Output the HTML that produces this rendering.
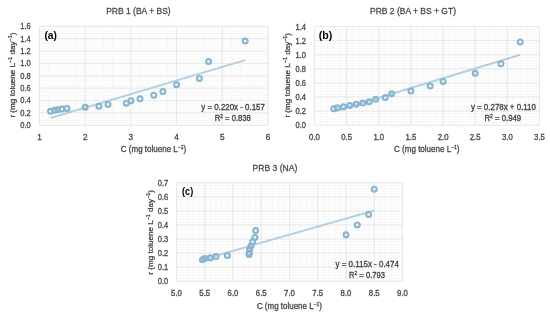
<!DOCTYPE html>
<html><head><meta charset="utf-8"><style>
html,body{margin:0;padding:0;background:#fff;}
svg{display:block;will-change:transform;filter:blur(0.3px);}
text{font-family:"Liberation Sans", sans-serif;}
</style></head><body>
<svg width="550" height="316" viewBox="0 0 550 316">
<rect width="550" height="316" fill="#fff"/>
<line x1="39.5" y1="26.3" x2="39.5" y2="125.2" stroke="#f7f7f7" stroke-width="1"/>
<line x1="48.64" y1="26.3" x2="48.64" y2="125.2" stroke="#f7f7f7" stroke-width="1"/>
<line x1="57.78" y1="26.3" x2="57.78" y2="125.2" stroke="#f7f7f7" stroke-width="1"/>
<line x1="66.92" y1="26.3" x2="66.92" y2="125.2" stroke="#f7f7f7" stroke-width="1"/>
<line x1="76.06" y1="26.3" x2="76.06" y2="125.2" stroke="#f7f7f7" stroke-width="1"/>
<line x1="85.2" y1="26.3" x2="85.2" y2="125.2" stroke="#f7f7f7" stroke-width="1"/>
<line x1="94.34" y1="26.3" x2="94.34" y2="125.2" stroke="#f7f7f7" stroke-width="1"/>
<line x1="103.48" y1="26.3" x2="103.48" y2="125.2" stroke="#f7f7f7" stroke-width="1"/>
<line x1="112.62" y1="26.3" x2="112.62" y2="125.2" stroke="#f7f7f7" stroke-width="1"/>
<line x1="121.76" y1="26.3" x2="121.76" y2="125.2" stroke="#f7f7f7" stroke-width="1"/>
<line x1="130.9" y1="26.3" x2="130.9" y2="125.2" stroke="#f7f7f7" stroke-width="1"/>
<line x1="140.04" y1="26.3" x2="140.04" y2="125.2" stroke="#f7f7f7" stroke-width="1"/>
<line x1="149.18" y1="26.3" x2="149.18" y2="125.2" stroke="#f7f7f7" stroke-width="1"/>
<line x1="158.32" y1="26.3" x2="158.32" y2="125.2" stroke="#f7f7f7" stroke-width="1"/>
<line x1="167.46" y1="26.3" x2="167.46" y2="125.2" stroke="#f7f7f7" stroke-width="1"/>
<line x1="176.6" y1="26.3" x2="176.6" y2="125.2" stroke="#f7f7f7" stroke-width="1"/>
<line x1="185.74" y1="26.3" x2="185.74" y2="125.2" stroke="#f7f7f7" stroke-width="1"/>
<line x1="194.88" y1="26.3" x2="194.88" y2="125.2" stroke="#f7f7f7" stroke-width="1"/>
<line x1="204.02" y1="26.3" x2="204.02" y2="125.2" stroke="#f7f7f7" stroke-width="1"/>
<line x1="213.16" y1="26.3" x2="213.16" y2="125.2" stroke="#f7f7f7" stroke-width="1"/>
<line x1="222.3" y1="26.3" x2="222.3" y2="125.2" stroke="#f7f7f7" stroke-width="1"/>
<line x1="231.44" y1="26.3" x2="231.44" y2="125.2" stroke="#f7f7f7" stroke-width="1"/>
<line x1="240.58" y1="26.3" x2="240.58" y2="125.2" stroke="#f7f7f7" stroke-width="1"/>
<line x1="249.72" y1="26.3" x2="249.72" y2="125.2" stroke="#f7f7f7" stroke-width="1"/>
<line x1="258.86" y1="26.3" x2="258.86" y2="125.2" stroke="#f7f7f7" stroke-width="1"/>
<line x1="268" y1="26.3" x2="268" y2="125.2" stroke="#f7f7f7" stroke-width="1"/>
<line x1="39.5" y1="125.2" x2="268" y2="125.2" stroke="#f7f7f7" stroke-width="1"/>
<line x1="39.5" y1="122.73" x2="268" y2="122.73" stroke="#f7f7f7" stroke-width="1"/>
<line x1="39.5" y1="120.25" x2="268" y2="120.25" stroke="#f7f7f7" stroke-width="1"/>
<line x1="39.5" y1="117.78" x2="268" y2="117.78" stroke="#f7f7f7" stroke-width="1"/>
<line x1="39.5" y1="115.31" x2="268" y2="115.31" stroke="#f7f7f7" stroke-width="1"/>
<line x1="39.5" y1="112.84" x2="268" y2="112.84" stroke="#f7f7f7" stroke-width="1"/>
<line x1="39.5" y1="110.37" x2="268" y2="110.37" stroke="#f7f7f7" stroke-width="1"/>
<line x1="39.5" y1="107.89" x2="268" y2="107.89" stroke="#f7f7f7" stroke-width="1"/>
<line x1="39.5" y1="105.42" x2="268" y2="105.42" stroke="#f7f7f7" stroke-width="1"/>
<line x1="39.5" y1="102.95" x2="268" y2="102.95" stroke="#f7f7f7" stroke-width="1"/>
<line x1="39.5" y1="100.47" x2="268" y2="100.47" stroke="#f7f7f7" stroke-width="1"/>
<line x1="39.5" y1="98" x2="268" y2="98" stroke="#f7f7f7" stroke-width="1"/>
<line x1="39.5" y1="95.53" x2="268" y2="95.53" stroke="#f7f7f7" stroke-width="1"/>
<line x1="39.5" y1="93.06" x2="268" y2="93.06" stroke="#f7f7f7" stroke-width="1"/>
<line x1="39.5" y1="90.59" x2="268" y2="90.59" stroke="#f7f7f7" stroke-width="1"/>
<line x1="39.5" y1="88.11" x2="268" y2="88.11" stroke="#f7f7f7" stroke-width="1"/>
<line x1="39.5" y1="85.64" x2="268" y2="85.64" stroke="#f7f7f7" stroke-width="1"/>
<line x1="39.5" y1="83.17" x2="268" y2="83.17" stroke="#f7f7f7" stroke-width="1"/>
<line x1="39.5" y1="80.7" x2="268" y2="80.7" stroke="#f7f7f7" stroke-width="1"/>
<line x1="39.5" y1="78.22" x2="268" y2="78.22" stroke="#f7f7f7" stroke-width="1"/>
<line x1="39.5" y1="75.75" x2="268" y2="75.75" stroke="#f7f7f7" stroke-width="1"/>
<line x1="39.5" y1="73.28" x2="268" y2="73.28" stroke="#f7f7f7" stroke-width="1"/>
<line x1="39.5" y1="70.81" x2="268" y2="70.81" stroke="#f7f7f7" stroke-width="1"/>
<line x1="39.5" y1="68.33" x2="268" y2="68.33" stroke="#f7f7f7" stroke-width="1"/>
<line x1="39.5" y1="65.86" x2="268" y2="65.86" stroke="#f7f7f7" stroke-width="1"/>
<line x1="39.5" y1="63.39" x2="268" y2="63.39" stroke="#f7f7f7" stroke-width="1"/>
<line x1="39.5" y1="60.91" x2="268" y2="60.91" stroke="#f7f7f7" stroke-width="1"/>
<line x1="39.5" y1="58.44" x2="268" y2="58.44" stroke="#f7f7f7" stroke-width="1"/>
<line x1="39.5" y1="55.97" x2="268" y2="55.97" stroke="#f7f7f7" stroke-width="1"/>
<line x1="39.5" y1="53.5" x2="268" y2="53.5" stroke="#f7f7f7" stroke-width="1"/>
<line x1="39.5" y1="51.03" x2="268" y2="51.03" stroke="#f7f7f7" stroke-width="1"/>
<line x1="39.5" y1="48.55" x2="268" y2="48.55" stroke="#f7f7f7" stroke-width="1"/>
<line x1="39.5" y1="46.08" x2="268" y2="46.08" stroke="#f7f7f7" stroke-width="1"/>
<line x1="39.5" y1="43.61" x2="268" y2="43.61" stroke="#f7f7f7" stroke-width="1"/>
<line x1="39.5" y1="41.14" x2="268" y2="41.14" stroke="#f7f7f7" stroke-width="1"/>
<line x1="39.5" y1="38.66" x2="268" y2="38.66" stroke="#f7f7f7" stroke-width="1"/>
<line x1="39.5" y1="36.19" x2="268" y2="36.19" stroke="#f7f7f7" stroke-width="1"/>
<line x1="39.5" y1="33.72" x2="268" y2="33.72" stroke="#f7f7f7" stroke-width="1"/>
<line x1="39.5" y1="31.25" x2="268" y2="31.25" stroke="#f7f7f7" stroke-width="1"/>
<line x1="39.5" y1="28.77" x2="268" y2="28.77" stroke="#f7f7f7" stroke-width="1"/>
<line x1="39.5" y1="26.3" x2="268" y2="26.3" stroke="#f7f7f7" stroke-width="1"/>
<line x1="39.5" y1="26.3" x2="39.5" y2="125.2" stroke="#e7e7e7" stroke-width="1"/>
<line x1="85.2" y1="26.3" x2="85.2" y2="125.2" stroke="#e7e7e7" stroke-width="1"/>
<line x1="130.9" y1="26.3" x2="130.9" y2="125.2" stroke="#e7e7e7" stroke-width="1"/>
<line x1="176.6" y1="26.3" x2="176.6" y2="125.2" stroke="#e7e7e7" stroke-width="1"/>
<line x1="222.3" y1="26.3" x2="222.3" y2="125.2" stroke="#e7e7e7" stroke-width="1"/>
<line x1="268" y1="26.3" x2="268" y2="125.2" stroke="#e7e7e7" stroke-width="1"/>
<line x1="39.5" y1="125.2" x2="268" y2="125.2" stroke="#e7e7e7" stroke-width="1"/>
<line x1="39.5" y1="112.84" x2="268" y2="112.84" stroke="#e7e7e7" stroke-width="1"/>
<line x1="39.5" y1="100.47" x2="268" y2="100.47" stroke="#e7e7e7" stroke-width="1"/>
<line x1="39.5" y1="88.11" x2="268" y2="88.11" stroke="#e7e7e7" stroke-width="1"/>
<line x1="39.5" y1="75.75" x2="268" y2="75.75" stroke="#e7e7e7" stroke-width="1"/>
<line x1="39.5" y1="63.39" x2="268" y2="63.39" stroke="#e7e7e7" stroke-width="1"/>
<line x1="39.5" y1="51.02" x2="268" y2="51.02" stroke="#e7e7e7" stroke-width="1"/>
<line x1="39.5" y1="38.66" x2="268" y2="38.66" stroke="#e7e7e7" stroke-width="1"/>
<line x1="39.5" y1="26.3" x2="268" y2="26.3" stroke="#e7e7e7" stroke-width="1"/>
<line x1="314.5" y1="26.6" x2="314.5" y2="125.2" stroke="#f7f7f7" stroke-width="1"/>
<line x1="320.93" y1="26.6" x2="320.93" y2="125.2" stroke="#f7f7f7" stroke-width="1"/>
<line x1="327.36" y1="26.6" x2="327.36" y2="125.2" stroke="#f7f7f7" stroke-width="1"/>
<line x1="333.79" y1="26.6" x2="333.79" y2="125.2" stroke="#f7f7f7" stroke-width="1"/>
<line x1="340.21" y1="26.6" x2="340.21" y2="125.2" stroke="#f7f7f7" stroke-width="1"/>
<line x1="346.64" y1="26.6" x2="346.64" y2="125.2" stroke="#f7f7f7" stroke-width="1"/>
<line x1="353.07" y1="26.6" x2="353.07" y2="125.2" stroke="#f7f7f7" stroke-width="1"/>
<line x1="359.5" y1="26.6" x2="359.5" y2="125.2" stroke="#f7f7f7" stroke-width="1"/>
<line x1="365.93" y1="26.6" x2="365.93" y2="125.2" stroke="#f7f7f7" stroke-width="1"/>
<line x1="372.36" y1="26.6" x2="372.36" y2="125.2" stroke="#f7f7f7" stroke-width="1"/>
<line x1="378.79" y1="26.6" x2="378.79" y2="125.2" stroke="#f7f7f7" stroke-width="1"/>
<line x1="385.21" y1="26.6" x2="385.21" y2="125.2" stroke="#f7f7f7" stroke-width="1"/>
<line x1="391.64" y1="26.6" x2="391.64" y2="125.2" stroke="#f7f7f7" stroke-width="1"/>
<line x1="398.07" y1="26.6" x2="398.07" y2="125.2" stroke="#f7f7f7" stroke-width="1"/>
<line x1="404.5" y1="26.6" x2="404.5" y2="125.2" stroke="#f7f7f7" stroke-width="1"/>
<line x1="410.93" y1="26.6" x2="410.93" y2="125.2" stroke="#f7f7f7" stroke-width="1"/>
<line x1="417.36" y1="26.6" x2="417.36" y2="125.2" stroke="#f7f7f7" stroke-width="1"/>
<line x1="423.79" y1="26.6" x2="423.79" y2="125.2" stroke="#f7f7f7" stroke-width="1"/>
<line x1="430.21" y1="26.6" x2="430.21" y2="125.2" stroke="#f7f7f7" stroke-width="1"/>
<line x1="436.64" y1="26.6" x2="436.64" y2="125.2" stroke="#f7f7f7" stroke-width="1"/>
<line x1="443.07" y1="26.6" x2="443.07" y2="125.2" stroke="#f7f7f7" stroke-width="1"/>
<line x1="449.5" y1="26.6" x2="449.5" y2="125.2" stroke="#f7f7f7" stroke-width="1"/>
<line x1="455.93" y1="26.6" x2="455.93" y2="125.2" stroke="#f7f7f7" stroke-width="1"/>
<line x1="462.36" y1="26.6" x2="462.36" y2="125.2" stroke="#f7f7f7" stroke-width="1"/>
<line x1="468.79" y1="26.6" x2="468.79" y2="125.2" stroke="#f7f7f7" stroke-width="1"/>
<line x1="475.21" y1="26.6" x2="475.21" y2="125.2" stroke="#f7f7f7" stroke-width="1"/>
<line x1="481.64" y1="26.6" x2="481.64" y2="125.2" stroke="#f7f7f7" stroke-width="1"/>
<line x1="488.07" y1="26.6" x2="488.07" y2="125.2" stroke="#f7f7f7" stroke-width="1"/>
<line x1="494.5" y1="26.6" x2="494.5" y2="125.2" stroke="#f7f7f7" stroke-width="1"/>
<line x1="500.93" y1="26.6" x2="500.93" y2="125.2" stroke="#f7f7f7" stroke-width="1"/>
<line x1="507.36" y1="26.6" x2="507.36" y2="125.2" stroke="#f7f7f7" stroke-width="1"/>
<line x1="513.79" y1="26.6" x2="513.79" y2="125.2" stroke="#f7f7f7" stroke-width="1"/>
<line x1="520.21" y1="26.6" x2="520.21" y2="125.2" stroke="#f7f7f7" stroke-width="1"/>
<line x1="526.64" y1="26.6" x2="526.64" y2="125.2" stroke="#f7f7f7" stroke-width="1"/>
<line x1="533.07" y1="26.6" x2="533.07" y2="125.2" stroke="#f7f7f7" stroke-width="1"/>
<line x1="539.5" y1="26.6" x2="539.5" y2="125.2" stroke="#f7f7f7" stroke-width="1"/>
<line x1="314.5" y1="125.2" x2="539.5" y2="125.2" stroke="#f7f7f7" stroke-width="1"/>
<line x1="314.5" y1="122.38" x2="539.5" y2="122.38" stroke="#f7f7f7" stroke-width="1"/>
<line x1="314.5" y1="119.57" x2="539.5" y2="119.57" stroke="#f7f7f7" stroke-width="1"/>
<line x1="314.5" y1="116.75" x2="539.5" y2="116.75" stroke="#f7f7f7" stroke-width="1"/>
<line x1="314.5" y1="113.93" x2="539.5" y2="113.93" stroke="#f7f7f7" stroke-width="1"/>
<line x1="314.5" y1="111.11" x2="539.5" y2="111.11" stroke="#f7f7f7" stroke-width="1"/>
<line x1="314.5" y1="108.3" x2="539.5" y2="108.3" stroke="#f7f7f7" stroke-width="1"/>
<line x1="314.5" y1="105.48" x2="539.5" y2="105.48" stroke="#f7f7f7" stroke-width="1"/>
<line x1="314.5" y1="102.66" x2="539.5" y2="102.66" stroke="#f7f7f7" stroke-width="1"/>
<line x1="314.5" y1="99.85" x2="539.5" y2="99.85" stroke="#f7f7f7" stroke-width="1"/>
<line x1="314.5" y1="97.03" x2="539.5" y2="97.03" stroke="#f7f7f7" stroke-width="1"/>
<line x1="314.5" y1="94.21" x2="539.5" y2="94.21" stroke="#f7f7f7" stroke-width="1"/>
<line x1="314.5" y1="91.39" x2="539.5" y2="91.39" stroke="#f7f7f7" stroke-width="1"/>
<line x1="314.5" y1="88.58" x2="539.5" y2="88.58" stroke="#f7f7f7" stroke-width="1"/>
<line x1="314.5" y1="85.76" x2="539.5" y2="85.76" stroke="#f7f7f7" stroke-width="1"/>
<line x1="314.5" y1="82.94" x2="539.5" y2="82.94" stroke="#f7f7f7" stroke-width="1"/>
<line x1="314.5" y1="80.13" x2="539.5" y2="80.13" stroke="#f7f7f7" stroke-width="1"/>
<line x1="314.5" y1="77.31" x2="539.5" y2="77.31" stroke="#f7f7f7" stroke-width="1"/>
<line x1="314.5" y1="74.49" x2="539.5" y2="74.49" stroke="#f7f7f7" stroke-width="1"/>
<line x1="314.5" y1="71.67" x2="539.5" y2="71.67" stroke="#f7f7f7" stroke-width="1"/>
<line x1="314.5" y1="68.86" x2="539.5" y2="68.86" stroke="#f7f7f7" stroke-width="1"/>
<line x1="314.5" y1="66.04" x2="539.5" y2="66.04" stroke="#f7f7f7" stroke-width="1"/>
<line x1="314.5" y1="63.22" x2="539.5" y2="63.22" stroke="#f7f7f7" stroke-width="1"/>
<line x1="314.5" y1="60.41" x2="539.5" y2="60.41" stroke="#f7f7f7" stroke-width="1"/>
<line x1="314.5" y1="57.59" x2="539.5" y2="57.59" stroke="#f7f7f7" stroke-width="1"/>
<line x1="314.5" y1="54.77" x2="539.5" y2="54.77" stroke="#f7f7f7" stroke-width="1"/>
<line x1="314.5" y1="51.95" x2="539.5" y2="51.95" stroke="#f7f7f7" stroke-width="1"/>
<line x1="314.5" y1="49.14" x2="539.5" y2="49.14" stroke="#f7f7f7" stroke-width="1"/>
<line x1="314.5" y1="46.32" x2="539.5" y2="46.32" stroke="#f7f7f7" stroke-width="1"/>
<line x1="314.5" y1="43.5" x2="539.5" y2="43.5" stroke="#f7f7f7" stroke-width="1"/>
<line x1="314.5" y1="40.69" x2="539.5" y2="40.69" stroke="#f7f7f7" stroke-width="1"/>
<line x1="314.5" y1="37.87" x2="539.5" y2="37.87" stroke="#f7f7f7" stroke-width="1"/>
<line x1="314.5" y1="35.05" x2="539.5" y2="35.05" stroke="#f7f7f7" stroke-width="1"/>
<line x1="314.5" y1="32.23" x2="539.5" y2="32.23" stroke="#f7f7f7" stroke-width="1"/>
<line x1="314.5" y1="29.42" x2="539.5" y2="29.42" stroke="#f7f7f7" stroke-width="1"/>
<line x1="314.5" y1="26.6" x2="539.5" y2="26.6" stroke="#f7f7f7" stroke-width="1"/>
<line x1="314.5" y1="26.6" x2="314.5" y2="125.2" stroke="#e7e7e7" stroke-width="1"/>
<line x1="346.64" y1="26.6" x2="346.64" y2="125.2" stroke="#e7e7e7" stroke-width="1"/>
<line x1="378.79" y1="26.6" x2="378.79" y2="125.2" stroke="#e7e7e7" stroke-width="1"/>
<line x1="410.93" y1="26.6" x2="410.93" y2="125.2" stroke="#e7e7e7" stroke-width="1"/>
<line x1="443.07" y1="26.6" x2="443.07" y2="125.2" stroke="#e7e7e7" stroke-width="1"/>
<line x1="475.21" y1="26.6" x2="475.21" y2="125.2" stroke="#e7e7e7" stroke-width="1"/>
<line x1="507.36" y1="26.6" x2="507.36" y2="125.2" stroke="#e7e7e7" stroke-width="1"/>
<line x1="539.5" y1="26.6" x2="539.5" y2="125.2" stroke="#e7e7e7" stroke-width="1"/>
<line x1="314.5" y1="125.2" x2="539.5" y2="125.2" stroke="#e7e7e7" stroke-width="1"/>
<line x1="314.5" y1="111.11" x2="539.5" y2="111.11" stroke="#e7e7e7" stroke-width="1"/>
<line x1="314.5" y1="97.03" x2="539.5" y2="97.03" stroke="#e7e7e7" stroke-width="1"/>
<line x1="314.5" y1="82.94" x2="539.5" y2="82.94" stroke="#e7e7e7" stroke-width="1"/>
<line x1="314.5" y1="68.86" x2="539.5" y2="68.86" stroke="#e7e7e7" stroke-width="1"/>
<line x1="314.5" y1="54.77" x2="539.5" y2="54.77" stroke="#e7e7e7" stroke-width="1"/>
<line x1="314.5" y1="40.69" x2="539.5" y2="40.69" stroke="#e7e7e7" stroke-width="1"/>
<line x1="314.5" y1="26.6" x2="539.5" y2="26.6" stroke="#e7e7e7" stroke-width="1"/>
<line x1="176.5" y1="182.8" x2="176.5" y2="281.2" stroke="#f7f7f7" stroke-width="1"/>
<line x1="182.15" y1="182.8" x2="182.15" y2="281.2" stroke="#f7f7f7" stroke-width="1"/>
<line x1="187.8" y1="182.8" x2="187.8" y2="281.2" stroke="#f7f7f7" stroke-width="1"/>
<line x1="193.45" y1="182.8" x2="193.45" y2="281.2" stroke="#f7f7f7" stroke-width="1"/>
<line x1="199.1" y1="182.8" x2="199.1" y2="281.2" stroke="#f7f7f7" stroke-width="1"/>
<line x1="204.75" y1="182.8" x2="204.75" y2="281.2" stroke="#f7f7f7" stroke-width="1"/>
<line x1="210.4" y1="182.8" x2="210.4" y2="281.2" stroke="#f7f7f7" stroke-width="1"/>
<line x1="216.05" y1="182.8" x2="216.05" y2="281.2" stroke="#f7f7f7" stroke-width="1"/>
<line x1="221.7" y1="182.8" x2="221.7" y2="281.2" stroke="#f7f7f7" stroke-width="1"/>
<line x1="227.35" y1="182.8" x2="227.35" y2="281.2" stroke="#f7f7f7" stroke-width="1"/>
<line x1="233" y1="182.8" x2="233" y2="281.2" stroke="#f7f7f7" stroke-width="1"/>
<line x1="238.65" y1="182.8" x2="238.65" y2="281.2" stroke="#f7f7f7" stroke-width="1"/>
<line x1="244.3" y1="182.8" x2="244.3" y2="281.2" stroke="#f7f7f7" stroke-width="1"/>
<line x1="249.95" y1="182.8" x2="249.95" y2="281.2" stroke="#f7f7f7" stroke-width="1"/>
<line x1="255.6" y1="182.8" x2="255.6" y2="281.2" stroke="#f7f7f7" stroke-width="1"/>
<line x1="261.25" y1="182.8" x2="261.25" y2="281.2" stroke="#f7f7f7" stroke-width="1"/>
<line x1="266.9" y1="182.8" x2="266.9" y2="281.2" stroke="#f7f7f7" stroke-width="1"/>
<line x1="272.55" y1="182.8" x2="272.55" y2="281.2" stroke="#f7f7f7" stroke-width="1"/>
<line x1="278.2" y1="182.8" x2="278.2" y2="281.2" stroke="#f7f7f7" stroke-width="1"/>
<line x1="283.85" y1="182.8" x2="283.85" y2="281.2" stroke="#f7f7f7" stroke-width="1"/>
<line x1="289.5" y1="182.8" x2="289.5" y2="281.2" stroke="#f7f7f7" stroke-width="1"/>
<line x1="295.15" y1="182.8" x2="295.15" y2="281.2" stroke="#f7f7f7" stroke-width="1"/>
<line x1="300.8" y1="182.8" x2="300.8" y2="281.2" stroke="#f7f7f7" stroke-width="1"/>
<line x1="306.45" y1="182.8" x2="306.45" y2="281.2" stroke="#f7f7f7" stroke-width="1"/>
<line x1="312.1" y1="182.8" x2="312.1" y2="281.2" stroke="#f7f7f7" stroke-width="1"/>
<line x1="317.75" y1="182.8" x2="317.75" y2="281.2" stroke="#f7f7f7" stroke-width="1"/>
<line x1="323.4" y1="182.8" x2="323.4" y2="281.2" stroke="#f7f7f7" stroke-width="1"/>
<line x1="329.05" y1="182.8" x2="329.05" y2="281.2" stroke="#f7f7f7" stroke-width="1"/>
<line x1="334.7" y1="182.8" x2="334.7" y2="281.2" stroke="#f7f7f7" stroke-width="1"/>
<line x1="340.35" y1="182.8" x2="340.35" y2="281.2" stroke="#f7f7f7" stroke-width="1"/>
<line x1="346" y1="182.8" x2="346" y2="281.2" stroke="#f7f7f7" stroke-width="1"/>
<line x1="351.65" y1="182.8" x2="351.65" y2="281.2" stroke="#f7f7f7" stroke-width="1"/>
<line x1="357.3" y1="182.8" x2="357.3" y2="281.2" stroke="#f7f7f7" stroke-width="1"/>
<line x1="362.95" y1="182.8" x2="362.95" y2="281.2" stroke="#f7f7f7" stroke-width="1"/>
<line x1="368.6" y1="182.8" x2="368.6" y2="281.2" stroke="#f7f7f7" stroke-width="1"/>
<line x1="374.25" y1="182.8" x2="374.25" y2="281.2" stroke="#f7f7f7" stroke-width="1"/>
<line x1="379.9" y1="182.8" x2="379.9" y2="281.2" stroke="#f7f7f7" stroke-width="1"/>
<line x1="385.55" y1="182.8" x2="385.55" y2="281.2" stroke="#f7f7f7" stroke-width="1"/>
<line x1="391.2" y1="182.8" x2="391.2" y2="281.2" stroke="#f7f7f7" stroke-width="1"/>
<line x1="396.85" y1="182.8" x2="396.85" y2="281.2" stroke="#f7f7f7" stroke-width="1"/>
<line x1="402.5" y1="182.8" x2="402.5" y2="281.2" stroke="#f7f7f7" stroke-width="1"/>
<line x1="176.5" y1="281.2" x2="402.5" y2="281.2" stroke="#f7f7f7" stroke-width="1"/>
<line x1="176.5" y1="278.39" x2="402.5" y2="278.39" stroke="#f7f7f7" stroke-width="1"/>
<line x1="176.5" y1="275.58" x2="402.5" y2="275.58" stroke="#f7f7f7" stroke-width="1"/>
<line x1="176.5" y1="272.77" x2="402.5" y2="272.77" stroke="#f7f7f7" stroke-width="1"/>
<line x1="176.5" y1="269.95" x2="402.5" y2="269.95" stroke="#f7f7f7" stroke-width="1"/>
<line x1="176.5" y1="267.14" x2="402.5" y2="267.14" stroke="#f7f7f7" stroke-width="1"/>
<line x1="176.5" y1="264.33" x2="402.5" y2="264.33" stroke="#f7f7f7" stroke-width="1"/>
<line x1="176.5" y1="261.52" x2="402.5" y2="261.52" stroke="#f7f7f7" stroke-width="1"/>
<line x1="176.5" y1="258.71" x2="402.5" y2="258.71" stroke="#f7f7f7" stroke-width="1"/>
<line x1="176.5" y1="255.9" x2="402.5" y2="255.9" stroke="#f7f7f7" stroke-width="1"/>
<line x1="176.5" y1="253.09" x2="402.5" y2="253.09" stroke="#f7f7f7" stroke-width="1"/>
<line x1="176.5" y1="250.27" x2="402.5" y2="250.27" stroke="#f7f7f7" stroke-width="1"/>
<line x1="176.5" y1="247.46" x2="402.5" y2="247.46" stroke="#f7f7f7" stroke-width="1"/>
<line x1="176.5" y1="244.65" x2="402.5" y2="244.65" stroke="#f7f7f7" stroke-width="1"/>
<line x1="176.5" y1="241.84" x2="402.5" y2="241.84" stroke="#f7f7f7" stroke-width="1"/>
<line x1="176.5" y1="239.03" x2="402.5" y2="239.03" stroke="#f7f7f7" stroke-width="1"/>
<line x1="176.5" y1="236.22" x2="402.5" y2="236.22" stroke="#f7f7f7" stroke-width="1"/>
<line x1="176.5" y1="233.41" x2="402.5" y2="233.41" stroke="#f7f7f7" stroke-width="1"/>
<line x1="176.5" y1="230.59" x2="402.5" y2="230.59" stroke="#f7f7f7" stroke-width="1"/>
<line x1="176.5" y1="227.78" x2="402.5" y2="227.78" stroke="#f7f7f7" stroke-width="1"/>
<line x1="176.5" y1="224.97" x2="402.5" y2="224.97" stroke="#f7f7f7" stroke-width="1"/>
<line x1="176.5" y1="222.16" x2="402.5" y2="222.16" stroke="#f7f7f7" stroke-width="1"/>
<line x1="176.5" y1="219.35" x2="402.5" y2="219.35" stroke="#f7f7f7" stroke-width="1"/>
<line x1="176.5" y1="216.54" x2="402.5" y2="216.54" stroke="#f7f7f7" stroke-width="1"/>
<line x1="176.5" y1="213.73" x2="402.5" y2="213.73" stroke="#f7f7f7" stroke-width="1"/>
<line x1="176.5" y1="210.91" x2="402.5" y2="210.91" stroke="#f7f7f7" stroke-width="1"/>
<line x1="176.5" y1="208.1" x2="402.5" y2="208.1" stroke="#f7f7f7" stroke-width="1"/>
<line x1="176.5" y1="205.29" x2="402.5" y2="205.29" stroke="#f7f7f7" stroke-width="1"/>
<line x1="176.5" y1="202.48" x2="402.5" y2="202.48" stroke="#f7f7f7" stroke-width="1"/>
<line x1="176.5" y1="199.67" x2="402.5" y2="199.67" stroke="#f7f7f7" stroke-width="1"/>
<line x1="176.5" y1="196.86" x2="402.5" y2="196.86" stroke="#f7f7f7" stroke-width="1"/>
<line x1="176.5" y1="194.05" x2="402.5" y2="194.05" stroke="#f7f7f7" stroke-width="1"/>
<line x1="176.5" y1="191.23" x2="402.5" y2="191.23" stroke="#f7f7f7" stroke-width="1"/>
<line x1="176.5" y1="188.42" x2="402.5" y2="188.42" stroke="#f7f7f7" stroke-width="1"/>
<line x1="176.5" y1="185.61" x2="402.5" y2="185.61" stroke="#f7f7f7" stroke-width="1"/>
<line x1="176.5" y1="182.8" x2="402.5" y2="182.8" stroke="#f7f7f7" stroke-width="1"/>
<line x1="176.5" y1="182.8" x2="176.5" y2="281.2" stroke="#e7e7e7" stroke-width="1"/>
<line x1="204.75" y1="182.8" x2="204.75" y2="281.2" stroke="#e7e7e7" stroke-width="1"/>
<line x1="233" y1="182.8" x2="233" y2="281.2" stroke="#e7e7e7" stroke-width="1"/>
<line x1="261.25" y1="182.8" x2="261.25" y2="281.2" stroke="#e7e7e7" stroke-width="1"/>
<line x1="289.5" y1="182.8" x2="289.5" y2="281.2" stroke="#e7e7e7" stroke-width="1"/>
<line x1="317.75" y1="182.8" x2="317.75" y2="281.2" stroke="#e7e7e7" stroke-width="1"/>
<line x1="346" y1="182.8" x2="346" y2="281.2" stroke="#e7e7e7" stroke-width="1"/>
<line x1="374.25" y1="182.8" x2="374.25" y2="281.2" stroke="#e7e7e7" stroke-width="1"/>
<line x1="402.5" y1="182.8" x2="402.5" y2="281.2" stroke="#e7e7e7" stroke-width="1"/>
<line x1="176.5" y1="281.2" x2="402.5" y2="281.2" stroke="#e7e7e7" stroke-width="1"/>
<line x1="176.5" y1="267.14" x2="402.5" y2="267.14" stroke="#e7e7e7" stroke-width="1"/>
<line x1="176.5" y1="253.09" x2="402.5" y2="253.09" stroke="#e7e7e7" stroke-width="1"/>
<line x1="176.5" y1="239.03" x2="402.5" y2="239.03" stroke="#e7e7e7" stroke-width="1"/>
<line x1="176.5" y1="224.97" x2="402.5" y2="224.97" stroke="#e7e7e7" stroke-width="1"/>
<line x1="176.5" y1="210.91" x2="402.5" y2="210.91" stroke="#e7e7e7" stroke-width="1"/>
<line x1="176.5" y1="196.86" x2="402.5" y2="196.86" stroke="#e7e7e7" stroke-width="1"/>
<line x1="176.5" y1="182.8" x2="402.5" y2="182.8" stroke="#e7e7e7" stroke-width="1"/>
<line x1="50.47" y1="118.04" x2="245.15" y2="60.11" stroke="#b3d1e3" stroke-width="2"/>
<circle cx="50.47" cy="111.33" r="2.45" fill="none" stroke="#86b5cd" stroke-width="2.1"/>
<circle cx="54.58" cy="110.29" r="2.45" fill="none" stroke="#86b5cd" stroke-width="2.1"/>
<circle cx="57.78" cy="109.68" r="2.45" fill="none" stroke="#86b5cd" stroke-width="2.1"/>
<circle cx="61.89" cy="109.06" r="2.45" fill="none" stroke="#86b5cd" stroke-width="2.1"/>
<circle cx="66.92" cy="108.39" r="2.45" fill="none" stroke="#86b5cd" stroke-width="2.1"/>
<circle cx="85.2" cy="107.17" r="2.45" fill="none" stroke="#86b5cd" stroke-width="2.1"/>
<circle cx="98.91" cy="106.25" r="2.45" fill="none" stroke="#86b5cd" stroke-width="2.1"/>
<circle cx="108.05" cy="104.41" r="2.45" fill="none" stroke="#86b5cd" stroke-width="2.1"/>
<circle cx="126.33" cy="103.19" r="2.45" fill="none" stroke="#86b5cd" stroke-width="2.1"/>
<circle cx="130.9" cy="100.74" r="2.45" fill="none" stroke="#86b5cd" stroke-width="2.1"/>
<circle cx="140.04" cy="98.78" r="2.45" fill="none" stroke="#86b5cd" stroke-width="2.1"/>
<circle cx="153.75" cy="95.24" r="2.45" fill="none" stroke="#86b5cd" stroke-width="2.1"/>
<circle cx="162.89" cy="91.56" r="2.45" fill="none" stroke="#86b5cd" stroke-width="2.1"/>
<circle cx="176.6" cy="84.65" r="2.45" fill="none" stroke="#86b5cd" stroke-width="2.1"/>
<circle cx="199.45" cy="78.41" r="2.45" fill="none" stroke="#86b5cd" stroke-width="2.1"/>
<circle cx="208.59" cy="61.58" r="2.45" fill="none" stroke="#86b5cd" stroke-width="2.1"/>
<circle cx="245.15" cy="41.08" r="2.45" fill="none" stroke="#86b5cd" stroke-width="2.1"/>
<line x1="333.79" y1="111.58" x2="520.21" y2="54.8" stroke="#b3d1e3" stroke-width="2"/>
<circle cx="333.79" cy="108.74" r="2.45" fill="none" stroke="#86b5cd" stroke-width="2.1"/>
<circle cx="337.32" cy="107.83" r="2.45" fill="none" stroke="#86b5cd" stroke-width="2.1"/>
<circle cx="343.43" cy="106.85" r="2.45" fill="none" stroke="#86b5cd" stroke-width="2.1"/>
<circle cx="349.86" cy="105.39" r="2.45" fill="none" stroke="#86b5cd" stroke-width="2.1"/>
<circle cx="356.29" cy="104.13" r="2.45" fill="none" stroke="#86b5cd" stroke-width="2.1"/>
<circle cx="362.71" cy="103.09" r="2.45" fill="none" stroke="#86b5cd" stroke-width="2.1"/>
<circle cx="369.14" cy="101.69" r="2.45" fill="none" stroke="#86b5cd" stroke-width="2.1"/>
<circle cx="375.57" cy="99.18" r="2.45" fill="none" stroke="#86b5cd" stroke-width="2.1"/>
<circle cx="385.21" cy="97.57" r="2.45" fill="none" stroke="#86b5cd" stroke-width="2.1"/>
<circle cx="391.64" cy="93.87" r="2.45" fill="none" stroke="#86b5cd" stroke-width="2.1"/>
<circle cx="410.93" cy="91.08" r="2.45" fill="none" stroke="#86b5cd" stroke-width="2.1"/>
<circle cx="430.21" cy="86.06" r="2.45" fill="none" stroke="#86b5cd" stroke-width="2.1"/>
<circle cx="443.07" cy="81.45" r="2.45" fill="none" stroke="#86b5cd" stroke-width="2.1"/>
<circle cx="475.21" cy="73.36" r="2.45" fill="none" stroke="#86b5cd" stroke-width="2.1"/>
<circle cx="500.93" cy="63.87" r="2.45" fill="none" stroke="#86b5cd" stroke-width="2.1"/>
<circle cx="520.21" cy="41.95" r="2.45" fill="none" stroke="#86b5cd" stroke-width="2.1"/>
<line x1="202.49" y1="259.57" x2="374.25" y2="210.42" stroke="#b3d1e3" stroke-width="2"/>
<circle cx="202.49" cy="259.69" r="2.45" fill="none" stroke="#86b5cd" stroke-width="2.1"/>
<circle cx="204.75" cy="258.57" r="2.45" fill="none" stroke="#86b5cd" stroke-width="2.1"/>
<circle cx="210.4" cy="257.72" r="2.45" fill="none" stroke="#86b5cd" stroke-width="2.1"/>
<circle cx="216.05" cy="256.6" r="2.45" fill="none" stroke="#86b5cd" stroke-width="2.1"/>
<circle cx="227.35" cy="255.62" r="2.45" fill="none" stroke="#86b5cd" stroke-width="2.1"/>
<circle cx="249.1" cy="254.49" r="2.45" fill="none" stroke="#86b5cd" stroke-width="2.1"/>
<circle cx="249.16" cy="252.95" r="2.45" fill="none" stroke="#86b5cd" stroke-width="2.1"/>
<circle cx="249.5" cy="249.5" r="2.45" fill="none" stroke="#86b5cd" stroke-width="2.1"/>
<circle cx="250.91" cy="246.06" r="2.45" fill="none" stroke="#86b5cd" stroke-width="2.1"/>
<circle cx="252.61" cy="241.84" r="2.45" fill="none" stroke="#86b5cd" stroke-width="2.1"/>
<circle cx="254.92" cy="237.48" r="2.45" fill="none" stroke="#86b5cd" stroke-width="2.1"/>
<circle cx="255.6" cy="230.59" r="2.45" fill="none" stroke="#86b5cd" stroke-width="2.1"/>
<circle cx="346" cy="234.81" r="2.45" fill="none" stroke="#86b5cd" stroke-width="2.1"/>
<circle cx="357.3" cy="224.97" r="2.45" fill="none" stroke="#86b5cd" stroke-width="2.1"/>
<circle cx="368.6" cy="214.43" r="2.45" fill="none" stroke="#86b5cd" stroke-width="2.1"/>
<circle cx="374.25" cy="189.27" r="2.45" fill="none" stroke="#86b5cd" stroke-width="2.1"/>
<text x="30.8" y="128.15" font-size="8.2" text-anchor="end" fill="#484848" stroke="#484848" stroke-width="0.3" textLength="10.5" lengthAdjust="spacingAndGlyphs">0.0</text>
<text x="30.8" y="115.79" font-size="8.2" text-anchor="end" fill="#484848" stroke="#484848" stroke-width="0.3" textLength="10.5" lengthAdjust="spacingAndGlyphs">0.2</text>
<text x="30.8" y="103.42" font-size="8.2" text-anchor="end" fill="#484848" stroke="#484848" stroke-width="0.3" textLength="10.5" lengthAdjust="spacingAndGlyphs">0.4</text>
<text x="30.8" y="91.06" font-size="8.2" text-anchor="end" fill="#484848" stroke="#484848" stroke-width="0.3" textLength="10.5" lengthAdjust="spacingAndGlyphs">0.6</text>
<text x="30.8" y="78.7" font-size="8.2" text-anchor="end" fill="#484848" stroke="#484848" stroke-width="0.3" textLength="10.5" lengthAdjust="spacingAndGlyphs">0.8</text>
<text x="30.8" y="66.34" font-size="8.2" text-anchor="end" fill="#484848" stroke="#484848" stroke-width="0.3" textLength="10.5" lengthAdjust="spacingAndGlyphs">1.0</text>
<text x="30.8" y="53.97" font-size="8.2" text-anchor="end" fill="#484848" stroke="#484848" stroke-width="0.3" textLength="10.5" lengthAdjust="spacingAndGlyphs">1.2</text>
<text x="30.8" y="41.61" font-size="8.2" text-anchor="end" fill="#484848" stroke="#484848" stroke-width="0.3" textLength="10.5" lengthAdjust="spacingAndGlyphs">1.4</text>
<text x="30.8" y="29.25" font-size="8.2" text-anchor="end" fill="#484848" stroke="#484848" stroke-width="0.3" textLength="10.5" lengthAdjust="spacingAndGlyphs">1.6</text>
<text x="306" y="128.15" font-size="8.2" text-anchor="end" fill="#484848" stroke="#484848" stroke-width="0.3" textLength="10.5" lengthAdjust="spacingAndGlyphs">0.0</text>
<text x="306" y="114.06" font-size="8.2" text-anchor="end" fill="#484848" stroke="#484848" stroke-width="0.3" textLength="10.5" lengthAdjust="spacingAndGlyphs">0.2</text>
<text x="306" y="99.98" font-size="8.2" text-anchor="end" fill="#484848" stroke="#484848" stroke-width="0.3" textLength="10.5" lengthAdjust="spacingAndGlyphs">0.4</text>
<text x="306" y="85.89" font-size="8.2" text-anchor="end" fill="#484848" stroke="#484848" stroke-width="0.3" textLength="10.5" lengthAdjust="spacingAndGlyphs">0.6</text>
<text x="306" y="71.81" font-size="8.2" text-anchor="end" fill="#484848" stroke="#484848" stroke-width="0.3" textLength="10.5" lengthAdjust="spacingAndGlyphs">0.8</text>
<text x="306" y="57.72" font-size="8.2" text-anchor="end" fill="#484848" stroke="#484848" stroke-width="0.3" textLength="10.5" lengthAdjust="spacingAndGlyphs">1.0</text>
<text x="306" y="43.64" font-size="8.2" text-anchor="end" fill="#484848" stroke="#484848" stroke-width="0.3" textLength="10.5" lengthAdjust="spacingAndGlyphs">1.2</text>
<text x="306" y="29.55" font-size="8.2" text-anchor="end" fill="#484848" stroke="#484848" stroke-width="0.3" textLength="10.5" lengthAdjust="spacingAndGlyphs">1.4</text>
<text x="168.3" y="284.15" font-size="8.2" text-anchor="end" fill="#484848" stroke="#484848" stroke-width="0.3" textLength="10.5" lengthAdjust="spacingAndGlyphs">0.0</text>
<text x="168.3" y="270.09" font-size="8.2" text-anchor="end" fill="#484848" stroke="#484848" stroke-width="0.3" textLength="10.5" lengthAdjust="spacingAndGlyphs">0.1</text>
<text x="168.3" y="256.04" font-size="8.2" text-anchor="end" fill="#484848" stroke="#484848" stroke-width="0.3" textLength="10.5" lengthAdjust="spacingAndGlyphs">0.2</text>
<text x="168.3" y="241.98" font-size="8.2" text-anchor="end" fill="#484848" stroke="#484848" stroke-width="0.3" textLength="10.5" lengthAdjust="spacingAndGlyphs">0.3</text>
<text x="168.3" y="227.92" font-size="8.2" text-anchor="end" fill="#484848" stroke="#484848" stroke-width="0.3" textLength="10.5" lengthAdjust="spacingAndGlyphs">0.4</text>
<text x="168.3" y="213.86" font-size="8.2" text-anchor="end" fill="#484848" stroke="#484848" stroke-width="0.3" textLength="10.5" lengthAdjust="spacingAndGlyphs">0.5</text>
<text x="168.3" y="199.81" font-size="8.2" text-anchor="end" fill="#484848" stroke="#484848" stroke-width="0.3" textLength="10.5" lengthAdjust="spacingAndGlyphs">0.6</text>
<text x="168.3" y="185.75" font-size="8.2" text-anchor="end" fill="#484848" stroke="#484848" stroke-width="0.3" textLength="10.5" lengthAdjust="spacingAndGlyphs">0.7</text>
<text x="39.5" y="139.6" font-size="8.2" text-anchor="middle" fill="#484848" stroke="#484848" stroke-width="0.3">1</text>
<text x="85.2" y="139.6" font-size="8.2" text-anchor="middle" fill="#484848" stroke="#484848" stroke-width="0.3">2</text>
<text x="130.9" y="139.6" font-size="8.2" text-anchor="middle" fill="#484848" stroke="#484848" stroke-width="0.3">3</text>
<text x="176.6" y="139.6" font-size="8.2" text-anchor="middle" fill="#484848" stroke="#484848" stroke-width="0.3">4</text>
<text x="222.3" y="139.6" font-size="8.2" text-anchor="middle" fill="#484848" stroke="#484848" stroke-width="0.3">5</text>
<text x="268" y="139.6" font-size="8.2" text-anchor="middle" fill="#484848" stroke="#484848" stroke-width="0.3">6</text>
<text x="314.5" y="139.6" font-size="8.2" text-anchor="middle" fill="#484848" stroke="#484848" stroke-width="0.3" textLength="10.8" lengthAdjust="spacingAndGlyphs">0.0</text>
<text x="346.64" y="139.6" font-size="8.2" text-anchor="middle" fill="#484848" stroke="#484848" stroke-width="0.3" textLength="10.8" lengthAdjust="spacingAndGlyphs">0.5</text>
<text x="378.79" y="139.6" font-size="8.2" text-anchor="middle" fill="#484848" stroke="#484848" stroke-width="0.3" textLength="10.8" lengthAdjust="spacingAndGlyphs">1.0</text>
<text x="410.93" y="139.6" font-size="8.2" text-anchor="middle" fill="#484848" stroke="#484848" stroke-width="0.3" textLength="10.8" lengthAdjust="spacingAndGlyphs">1.5</text>
<text x="443.07" y="139.6" font-size="8.2" text-anchor="middle" fill="#484848" stroke="#484848" stroke-width="0.3" textLength="10.8" lengthAdjust="spacingAndGlyphs">2.0</text>
<text x="475.21" y="139.6" font-size="8.2" text-anchor="middle" fill="#484848" stroke="#484848" stroke-width="0.3" textLength="10.8" lengthAdjust="spacingAndGlyphs">2.5</text>
<text x="507.36" y="139.6" font-size="8.2" text-anchor="middle" fill="#484848" stroke="#484848" stroke-width="0.3" textLength="10.8" lengthAdjust="spacingAndGlyphs">3.0</text>
<text x="539.5" y="139.6" font-size="8.2" text-anchor="middle" fill="#484848" stroke="#484848" stroke-width="0.3" textLength="10.8" lengthAdjust="spacingAndGlyphs">3.5</text>
<text x="176.5" y="295.8" font-size="8.2" text-anchor="middle" fill="#484848" stroke="#484848" stroke-width="0.3" textLength="10.8" lengthAdjust="spacingAndGlyphs">5.0</text>
<text x="204.75" y="295.8" font-size="8.2" text-anchor="middle" fill="#484848" stroke="#484848" stroke-width="0.3" textLength="10.8" lengthAdjust="spacingAndGlyphs">5.5</text>
<text x="233" y="295.8" font-size="8.2" text-anchor="middle" fill="#484848" stroke="#484848" stroke-width="0.3" textLength="10.8" lengthAdjust="spacingAndGlyphs">6.0</text>
<text x="261.25" y="295.8" font-size="8.2" text-anchor="middle" fill="#484848" stroke="#484848" stroke-width="0.3" textLength="10.8" lengthAdjust="spacingAndGlyphs">6.5</text>
<text x="289.5" y="295.8" font-size="8.2" text-anchor="middle" fill="#484848" stroke="#484848" stroke-width="0.3" textLength="10.8" lengthAdjust="spacingAndGlyphs">7.0</text>
<text x="317.75" y="295.8" font-size="8.2" text-anchor="middle" fill="#484848" stroke="#484848" stroke-width="0.3" textLength="10.8" lengthAdjust="spacingAndGlyphs">7.5</text>
<text x="346" y="295.8" font-size="8.2" text-anchor="middle" fill="#484848" stroke="#484848" stroke-width="0.3" textLength="10.8" lengthAdjust="spacingAndGlyphs">8.0</text>
<text x="374.25" y="295.8" font-size="8.2" text-anchor="middle" fill="#484848" stroke="#484848" stroke-width="0.3" textLength="10.8" lengthAdjust="spacingAndGlyphs">8.5</text>
<text x="402.5" y="295.8" font-size="8.2" text-anchor="middle" fill="#484848" stroke="#484848" stroke-width="0.3" textLength="10.8" lengthAdjust="spacingAndGlyphs">9.0</text>
<text x="138.4" y="14.2" font-size="9.7" text-anchor="middle" fill="#484848" stroke="#484848" stroke-width="0.3" textLength="64.5" lengthAdjust="spacingAndGlyphs">PRB 1 (BA + BS)</text>
<text x="413" y="14" font-size="9.7" text-anchor="middle" fill="#484848" stroke="#484848" stroke-width="0.3" textLength="86" lengthAdjust="spacingAndGlyphs">PRB 2 (BA + BS + GT)</text>
<text x="275" y="170.9" font-size="9.7" text-anchor="middle" fill="#484848" stroke="#484848" stroke-width="0.3" textLength="44.8" lengthAdjust="spacingAndGlyphs">PRB 3 (NA)</text>
<text x="153.45" y="151.9" font-size="8.4" text-anchor="middle" fill="#484848" stroke="#484848" stroke-width="0.3" textLength="65.3" lengthAdjust="spacingAndGlyphs">C (mg toluene L<tspan font-size="5.2" dy="-3">−1</tspan><tspan dy="3">)</tspan></text>
<text x="426.8" y="152.2" font-size="8.4" text-anchor="middle" fill="#484848" stroke="#484848" stroke-width="0.3" textLength="65.5" lengthAdjust="spacingAndGlyphs">C (mg toluene L<tspan font-size="5.2" dy="-3">−1</tspan><tspan dy="3">)</tspan></text>
<text x="289.4" y="308.9" font-size="8.4" text-anchor="middle" fill="#484848" stroke="#484848" stroke-width="0.3" textLength="65" lengthAdjust="spacingAndGlyphs">C (mg toluene L<tspan font-size="5.2" dy="-3">−1</tspan><tspan dy="3">)</tspan></text>
<g transform="translate(15.3,75.1) rotate(-90)">
<text x="0" y="0" font-size="7.9" text-anchor="middle" fill="#484848" stroke="#484848" stroke-width="0.3" textLength="85" lengthAdjust="spacingAndGlyphs">r (mg toluene L<tspan font-size="5.2" dy="-3">−1</tspan><tspan dy="3"> day</tspan><tspan font-size="5.2" dy="-3">−1</tspan><tspan dy="3">)</tspan></text>
</g>
<g transform="translate(290.3,75.3) rotate(-90)">
<text x="0" y="0" font-size="7.9" text-anchor="middle" fill="#484848" stroke="#484848" stroke-width="0.3" textLength="84.6" lengthAdjust="spacingAndGlyphs">r (mg toluene L<tspan font-size="5.2" dy="-3">−1</tspan><tspan dy="3"> day</tspan><tspan font-size="5.2" dy="-3">−1</tspan><tspan dy="3">)</tspan></text>
</g>
<g transform="translate(153.1,232.4) rotate(-90)">
<text x="0" y="0" font-size="7.9" text-anchor="middle" fill="#484848" stroke="#484848" stroke-width="0.3" textLength="84.7" lengthAdjust="spacingAndGlyphs">r (mg toluene L<tspan font-size="5.2" dy="-3">−1</tspan><tspan dy="3"> day</tspan><tspan font-size="5.2" dy="-3">−1</tspan><tspan dy="3">)</tspan></text>
</g>
<text x="44.4" y="38.5" font-size="11.4" text-anchor="start" fill="#000" stroke="#000" stroke-width="0" textLength="12.5" lengthAdjust="spacingAndGlyphs" font-weight="bold">(a)</text>
<text x="318.7" y="38.5" font-size="11.4" text-anchor="start" fill="#000" stroke="#000" stroke-width="0" textLength="13.6" lengthAdjust="spacingAndGlyphs" font-weight="bold">(b)</text>
<text x="182.1" y="194.5" font-size="11.4" text-anchor="start" fill="#000" stroke="#000" stroke-width="0" textLength="11.1" lengthAdjust="spacingAndGlyphs" font-weight="bold">(c)</text>
<text x="233.1" y="110.4" font-size="8.2" text-anchor="middle" fill="#404040" stroke="#404040" stroke-width="0.3" textLength="63.6" lengthAdjust="spacingAndGlyphs">y = 0.220x - 0.157</text>
<text x="232.8" y="121.3" font-size="8.2" text-anchor="middle" fill="#404040" stroke="#404040" stroke-width="0.3" textLength="36.1" lengthAdjust="spacingAndGlyphs">R<tspan font-size="5.2" dy="-3">2</tspan><tspan dy="3"> = 0.838</tspan></text>
<text x="503.4" y="110.4" font-size="8.2" text-anchor="middle" fill="#404040" stroke="#404040" stroke-width="0.3" textLength="65" lengthAdjust="spacingAndGlyphs">y = 0.278x + 0.110</text>
<text x="502.8" y="121.3" font-size="8.2" text-anchor="middle" fill="#404040" stroke="#404040" stroke-width="0.3" textLength="36.7" lengthAdjust="spacingAndGlyphs">R<tspan font-size="5.2" dy="-3">2</tspan><tspan dy="3"> = 0.949</tspan></text>
<text x="367.2" y="266.8" font-size="8.2" text-anchor="middle" fill="#404040" stroke="#404040" stroke-width="0.3" textLength="63.4" lengthAdjust="spacingAndGlyphs">y = 0.115x - 0.474</text>
<text x="367" y="277.6" font-size="8.2" text-anchor="middle" fill="#404040" stroke="#404040" stroke-width="0.3" textLength="35.9" lengthAdjust="spacingAndGlyphs">R<tspan font-size="5.2" dy="-3">2</tspan><tspan dy="3"> = 0.793</tspan></text>
</svg>
</body></html>
